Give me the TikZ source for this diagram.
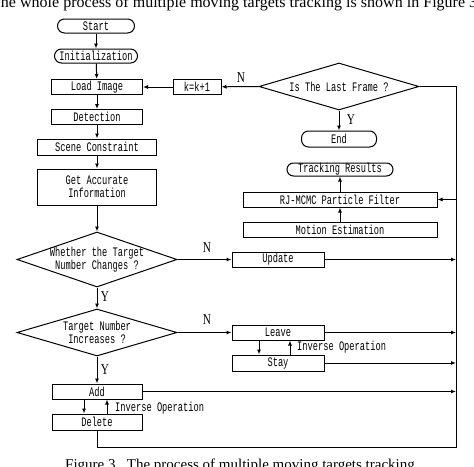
\documentclass[tikz,border=0pt]{standalone}
\usepackage{fontspec}
\setmainfont{Liberation Serif}
\newfontfamily\flowfont[FakeStretch=0.67]{Liberation Mono}
\newfontfamily\ynfont[FakeStretch=0.75]{Liberation Serif}
\usetikzlibrary{shapes.geometric,arrows.meta,calc}
\begin{document}
\begin{tikzpicture}[x=1pt,y=-1pt,
  box/.style={draw, rectangle, line width=1pt, inner sep=0pt, align=center,
    font=\flowfont\fontsize{13}{13}\selectfont},
  rbox/.style={box, rounded corners=7pt},
  dia/.style={draw, diamond, line width=1pt, inner sep=0pt},
  dtext/.style={align=center, inner sep=0pt, font=\flowfont\fontsize{13}{13}\selectfont},
  arr/.style={-{Latex[length=5pt,width=4pt]}, line width=1pt},
  ln/.style={line width=1pt},
  yn/.style={font=\ynfont\fontsize{15}{15}\selectfont, inner sep=0pt},
  note/.style={font=\flowfont\fontsize{13}{13}\selectfont, inner sep=0pt, anchor=west}]
\useasboundingbox (0,0) rectangle (474,466);
\clip (0,0) rectangle (474,466);

% cut-off surrounding text
\node[anchor=base west, inner sep=0pt, font=\fontsize{16}{16}\selectfont] (toptext) at (-9,7)
  {\makebox[490pt][s]{The whole process of multiple moving targets tracking is shown in Figure 3.}};
\node[anchor=base west, inner sep=0pt, font=\fontsize{15}{15}\selectfont] (caption) at (65,469.5)
  {Figure 3.~~The process of multiple moving targets tracking};

% nodes
\node[rbox, minimum width=77pt, minimum height=14pt] (start) at (96,26) {Start};
\node[rbox, minimum width=83pt, minimum height=14pt] (init) at (96,56) {Initialization};
\node[box, minimum width=91pt, minimum height=15pt] (load) at (97,87) {Load Image};
\node[box, minimum width=48pt, minimum height=15pt] (kk) at (197,87) {k=k+1};
\node[box, minimum width=91pt, minimum height=15pt] (det) at (97,117) {Detection};
\node[box, minimum width=119pt, minimum height=16pt] (scene) at (97,147) {Scene Constraint};
\node[box, minimum width=119pt, minimum height=36pt] (gai) at (97,187) {Get Accurate\\Information};
\node[dia, minimum width=160pt, minimum height=55pt] (d1) at (97,259.5) {};
\node[dtext] (d1t) at (d1.center) {Whether the Target\\Number Changes ?};
\node[box, minimum width=92pt, minimum height=15pt] (upd) at (278,259.5) {Update};
\node[dia, minimum width=160pt, minimum height=47pt] (last) at (339,86.5) {};
\node[dtext] (lastt) at (last.center) {Is The Last Frame ?};
\node[rbox, minimum width=75pt, minimum height=16pt] (end) at (339,139) {End};
\node[rbox, minimum width=106pt, minimum height=13pt, rounded corners=6.5pt] (tr) at (340,169.5) {Tracking Results};
\node[box, minimum width=194pt, minimum height=15pt] (rj) at (340,199.5) {RJ-MCMC Particle Filter};
\node[box, minimum width=194pt, minimum height=15pt] (me) at (340,229.5) {Motion Estimation};
\node[dia, minimum width=160pt, minimum height=47pt] (d2) at (97,332.5) {};
\node[dtext] (d2t) at (d2.center) {Target Number\\Increases ?};
\node[box, minimum width=92pt, minimum height=15pt] (leave) at (278,332.5) {Leave};
\node[box, minimum width=92pt, minimum height=16pt] (stay) at (278,363) {Stay};
\node[box, minimum width=90pt, minimum height=15pt] (add) at (97,391.5) {Add};
\node[box, minimum width=90pt, minimum height=16pt] (del) at (97,422) {Delete};

% main flow
\draw[arr] (start) -- (init);
\draw[arr] (init) -- (load);
\draw[arr] (load) -- (det);
\draw[arr] (det) -- (scene);
\draw[arr] (scene) -- (gai);
\draw[arr] (gai) -- (d1);
\draw[arr] (kk) -- (load);
\draw[arr] (last.west) -- (kk);
\draw[arr] (last.south) -- (end);
\draw[arr] (d1.east) -- (upd);
\draw[arr] (d1.south) -- (d2);
\draw[arr] (d2.east) -- (leave);
\draw[arr] (d2.south) -- (add);
\draw[arr] (me) -- (rj);
\draw[arr] (rj) -- (tr);

% leave / stay and add / delete
\draw[arr] ([xshift=-19pt]leave.south) -- ([xshift=-19pt]stay.north);
\draw[arr] ([xshift=12pt]stay.north) -- ([xshift=12pt]leave.south);
\draw[arr] ([xshift=-13pt]add.south) -- ([xshift=-13pt]del.north);
\draw[arr] ([xshift=10pt]del.north) -- ([xshift=10pt]add.south);
\node[note] (inv1) at (297,347) {Inverse Operation};
\node[note] (inv2) at (115,408) {Inverse Operation};

% right collector line
\coordinate (rtop) at (456,86.5);
\coordinate (rbot) at (456,447);
\coordinate (dbot) at (97,447);
\draw[ln] (last.east) -- (rtop) -- (rbot) -- (dbot) -- (del.south);
\draw[arr] (rj.east -| rtop) -- (rj.east);
\draw[arr] (upd.east) -- (upd.east -| rtop);
\draw[arr] (leave.east) -- (leave.east -| rtop);
\draw[arr] (stay.east) -- (stay.east -| rtop);
\draw[arr] (add.east) -- (add.east -| rtop);

% Y / N labels
\node[yn] (n1) at (241,78) {N};
\node[yn] (y1) at (351,120) {Y};
\node[yn] (n2) at (207,248) {N};
\node[yn] (y2) at (105,297) {Y};
\node[yn] (n3) at (207,320) {N};
\node[yn] (y3) at (105,370) {Y};
\end{tikzpicture}
\end{document}
